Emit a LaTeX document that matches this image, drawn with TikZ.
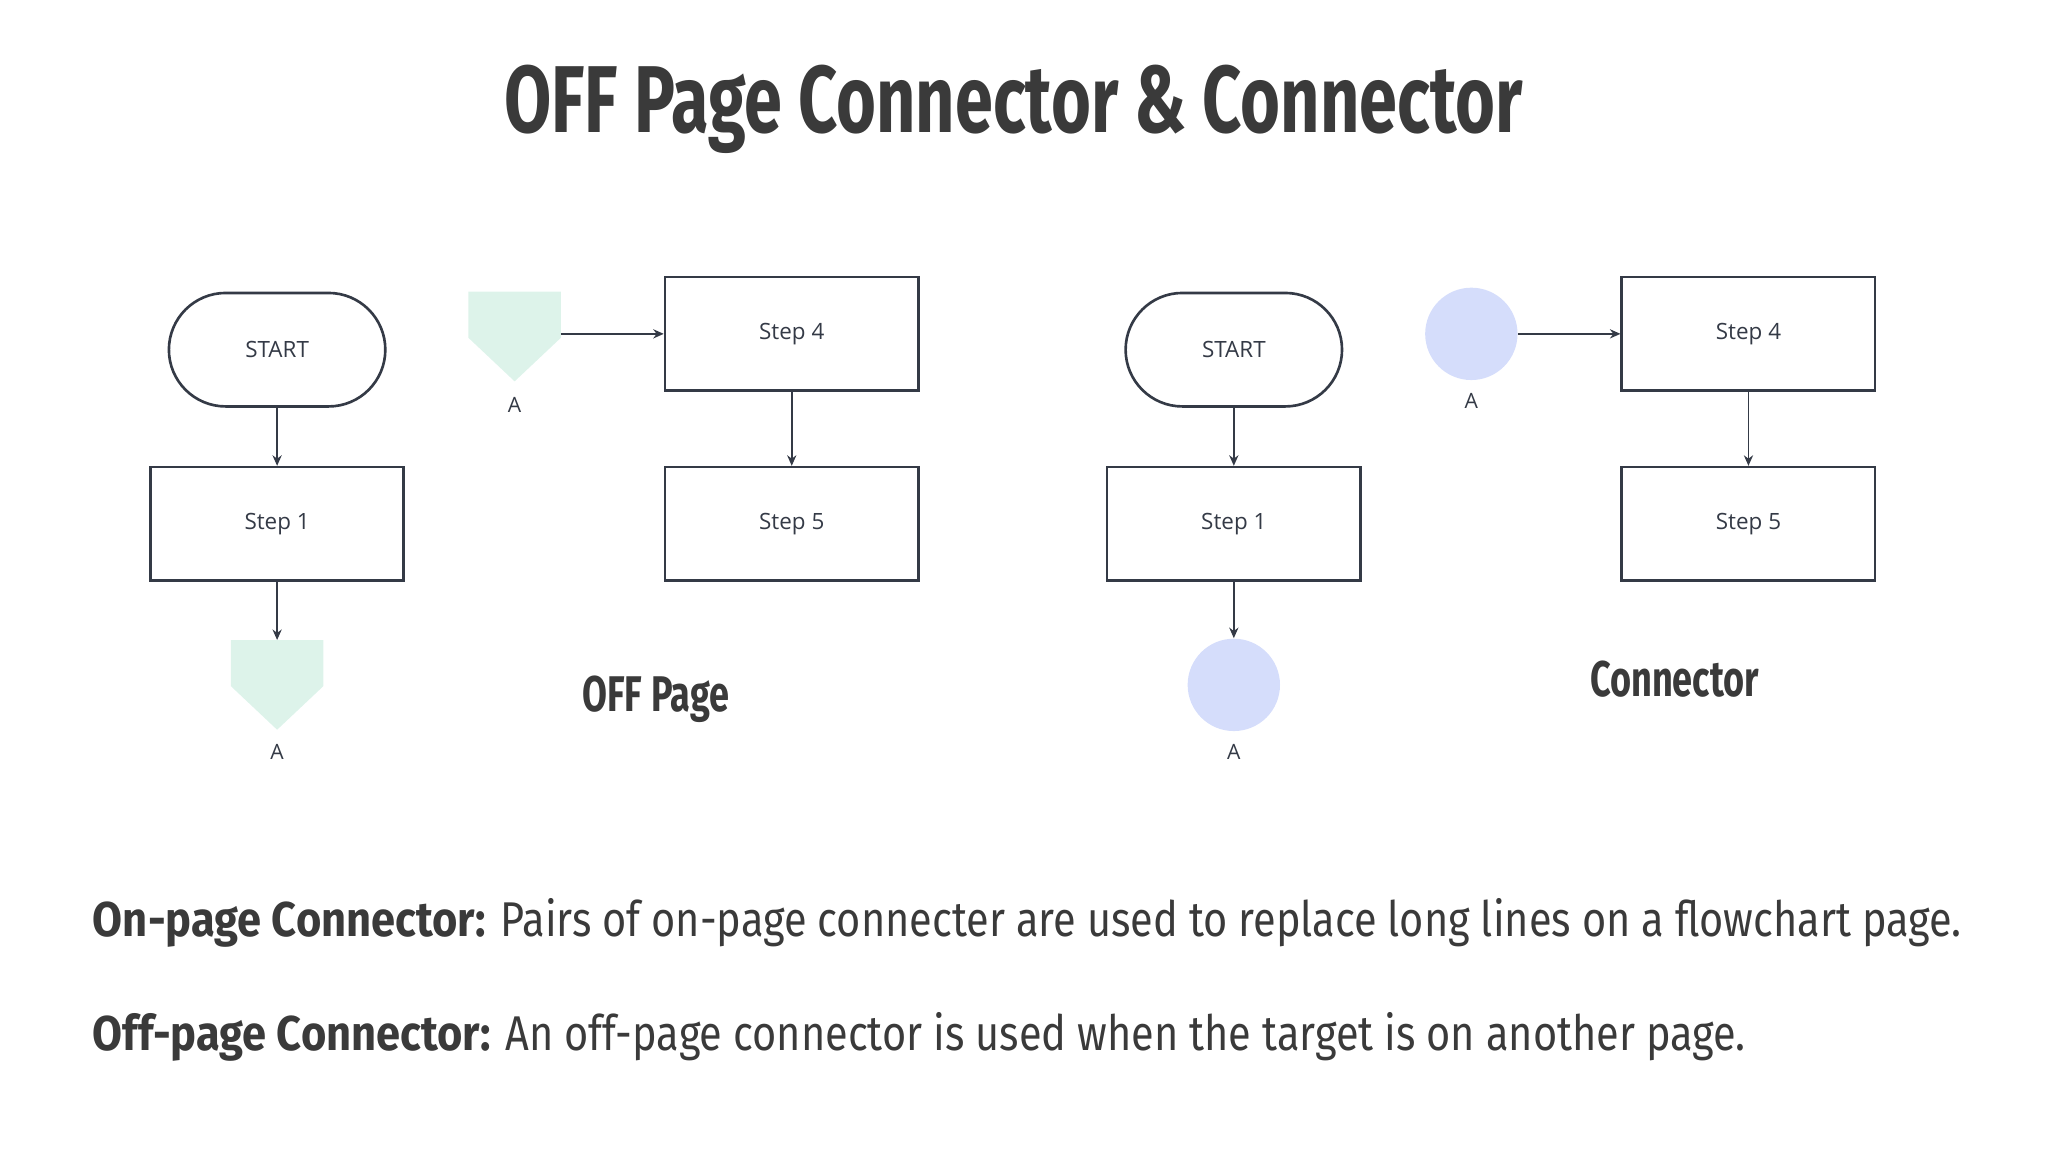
\documentclass[tikz,border=0pt]{standalone}
\usepackage{fontspec}
\setmainfont{Open Sans}
\newfontfamily\condbold[FakeStretch=0.72]{Fira Sans}
\newfontfamily\condtext[FakeStretch=0.85,BoldFeatures={FakeStretch=0.89}]{Fira Sans}
\usetikzlibrary{arrows.meta}
\definecolor{ln}{HTML}{343A46}
\definecolor{offc}{HTML}{DDF3EA}
\definecolor{conc}{HTML}{D5DDFB}
\definecolor{tx}{HTML}{3A3A3A}
\begin{document}
\begin{tikzpicture}[x=0.5pt,y=-0.5pt,
  box/.style={draw=ln,line width=1pt,minimum width=96pt,minimum height=43pt,font=\fontsize{8.5}{10}\selectfont,text=ln},
  term/.style={draw=ln,line width=1pt,rounded corners=21.5pt,minimum width=82pt,minimum height=43pt,font=\fontsize{8.5}{10}\selectfont,text=ln},
  circ/.style={circle,fill=conc,minimum size=35pt,inner sep=0pt},
  lab/.style={font=\fontsize{8}{10}\selectfont,text=ln},
  arr/.style={draw=ln,line width=0.6pt,-{Stealth[length=4pt,width=3.5pt]}}]
\useasboundingbox (0,0) rectangle (1552,873);
\node[font=\condbold\bfseries\fontsize{36}{40}\selectfont,text=tx] at (768,83) {OFF Page Connector \& Connector};
% left
\node[term] (s1) at (210,265) {START};
\node[box] (a1) at (210,397) {Step 1};
\fill[offc] (175,485) -- (245,485) -- (245,520) -- (210,553) -- (175,520) -- cycle;
\coordinate (o1) at (210,485);
\node[lab] (oa1) at (210,570) {A};
\fill[offc] (355,221) -- (425,221) -- (425,256) -- (390,289) -- (355,256) -- cycle;
\coordinate (o2) at (425,253);
\node[lab] (oa2) at (390,307) {A};
\node[box] (b4) at (600,253) {Step 4};
\node[box] (b5) at (600,397) {Step 5};
\draw[arr] (s1) -- (a1);
\draw[arr] (a1) -- (o1);
\draw[arr] (o2) -- (b4);
\draw[arr] (b4) -- (b5);
\node[font=\condbold\bfseries\fontsize{19}{22}\selectfont,text=tx] at (497,530) {OFF Page};
% right
\node[term] (s2) at (935,265) {START};
\node[box] (c1) at (935,397) {Step 1};
\node[circ] (k1) at (935,519) {};
\node[lab] at (935,570) {A};
\node[circ] (k2) at (1115,253) {};
\node[lab] at (1115,304) {A};
\node[box] (d4) at (1325,253) {Step 4};
\node[box] (d5) at (1325,397) {Step 5};
\draw[arr] (s2) -- (c1);
\draw[arr] (c1) -- (k1);
\draw[arr] (k2) -- (d4);
\draw[arr] (d4) -- (d5);
\node[font=\condbold\bfseries\fontsize{19}{22}\selectfont,text=tx] at (1269,515) {Connector};
% bottom
\node[anchor=base west,inner sep=0pt,font=\condtext\fontsize{18.5}{22}\selectfont,text=tx] at (70,710) {{\bfseries On-page Connector:} Pairs of on-page connecter are used to replace long lines on a flowchart page.};
\node[anchor=base west,inner sep=0pt,font=\condtext\fontsize{18.5}{22}\selectfont,text=tx] at (70,796) {{\bfseries Off-page Connector:} An off-page connector is used when the target is on another page.};
\end{tikzpicture}
\end{document}
